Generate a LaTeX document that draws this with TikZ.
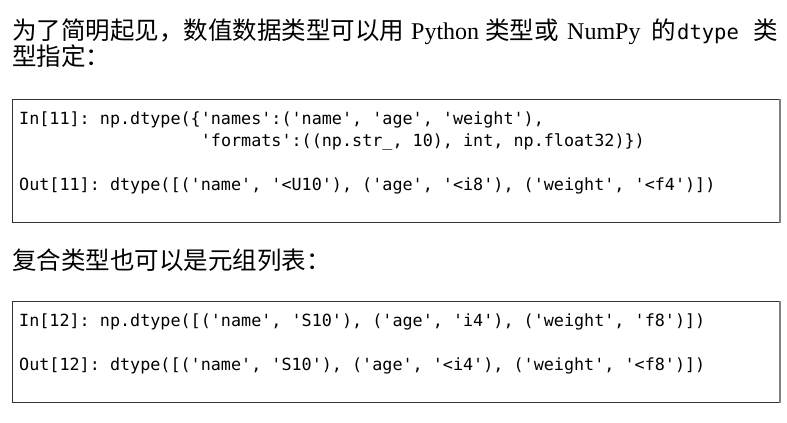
\documentclass[tikz,border=0pt]{standalone}
\usepackage{fontspec}
\setmainfont{Liberation Serif}
\setmonofont{DejaVu Sans Mono}
\newfontfamily\cjk{Noto Sans CJK SC}
\usetikzlibrary{positioning}

\begin{document}
\begin{tikzpicture}[x=1bp,y=-1bp,
    hz/.style={anchor=base west,inner sep=0pt,font=\cjk\fontsize{24.5bp}{27bp}\selectfont},
    hl/.style={anchor=base west,inner sep=0pt,font=\fontsize{24bp}{27bp}\selectfont},
    ht/.style={anchor=base west,inner sep=0pt,font=\ttfamily\fontsize{20.5bp}{24bp}\selectfont},
    code/.style={anchor=base west,inner sep=0pt,font=\ttfamily\fontsize{16.76bp}{22bp}\selectfont},
    codebox/.style={draw=black!80,line width=1bp,anchor=north west,inner sep=0pt,minimum width=767bp}]
  \useasboundingbox (0,0) rectangle (787,422);

  \node[hz] (hdA) at (12,39) {为了简明起见，数值数据类型可以用};
  \node[hl] (hdB) at (411,39) {Python};
  \node[hz] (hdC) at (485,39) {类型或};
  \node[hl] (hdD) at (567,39) {NumPy};
  \node[hz] (hdE) at (651,39) {的};
  \node[ht] (hdF) at (677,39) {dtype};
  \node[hz] (hdG) at (753,39) {类};
  \node[hz] (hdH) at (12,65) {型指定：};

  \node[codebox,minimum height=123bp] (box11) at (12,99) {};
  \draw[gray,line width=1.5bp] (box11.north east) -- (box11.south east);
  \node[code] (in11) at (19,124) {In[11]: np.dtype(\{'names':('name', 'age', 'weight'),};
  \node[code] (in11b) at (19,146) {\hphantom{In[11]: np.dtype(\{}'formats':((np.str\_, 10), int, np.float32)\})};
  \node[code] (out11) at (19,190) {Out[11]: dtype([('name', '<U10'), ('age', '<i8'), ('weight', '<f4')])};

  \node[hz] (hdI) at (12,269) {复合类型也可以是元组列表：};

  \node[codebox,minimum height=101bp] (box12) at (12,301) {};
  \draw[gray,line width=1.5bp] (box12.north east) -- (box12.south east);
  \node[code] (in12) at (19,326) {In[12]: np.dtype([('name', 'S10'), ('age', 'i4'), ('weight', 'f8')])};
  \node[code] (out12) at (19,370) {Out[12]: dtype([('name', 'S10'), ('age', '<i4'), ('weight', '<f8')])};
\end{tikzpicture}
\end{document}
